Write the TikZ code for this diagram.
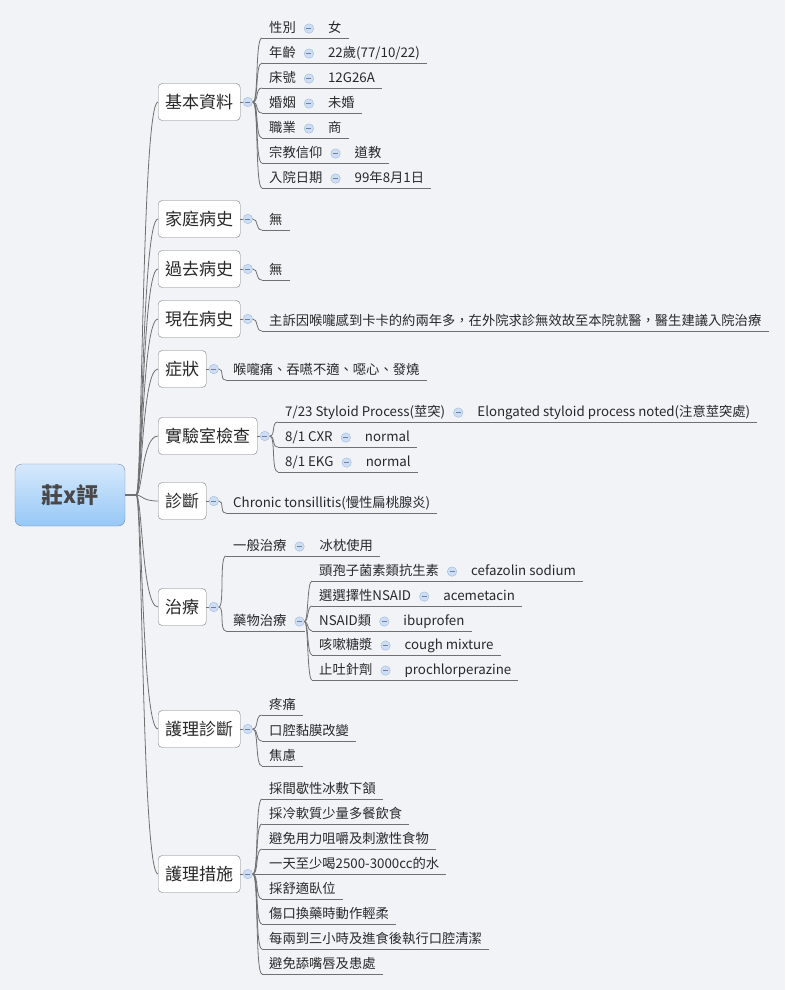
\documentclass[tikz,border=0pt]{standalone}
\usepackage{fontspec}
\setmainfont{Noto Sans CJK TC}
\usetikzlibrary{positioning}
\definecolor{mmbg}{RGB}{241,243,247}
\definecolor{mmline}{RGB}{112,112,112}
\definecolor{mmbox}{RGB}{125,125,125}
\definecolor{mmtext}{RGB}{40,40,40}
\definecolor{mmroottop}{RGB}{214,233,252}
\definecolor{mmrootbot}{RGB}{150,200,246}
\definecolor{mmrootdraw}{RGB}{120,140,170}
\definecolor{mmfold}{RGB}{205,221,244}
\definecolor{mmfolddraw}{RGB}{160,186,222}

\begin{document}
\begin{tikzpicture}[x=1pt, y=-1pt,
  root/.style={rectangle, rounded corners=7pt, draw=mmrootdraw, top color=mmroottop,
               bottom color=mmrootbot, minimum width=110pt, minimum height=62pt,
               font=\fontsize{22}{22}\selectfont\bfseries, text=mmtext!85},
  topic/.style={rectangle, rounded corners=4pt, draw=mmbox, fill=white, anchor=west,
                minimum height=37pt, inner xsep=7pt,
                font=\fontsize{17}{17}\selectfont, text=mmtext},
  leaf/.style={inner xsep=7pt, inner ysep=3pt, text height=10pt, text depth=2.5pt,
               font=\fontsize{13.3}{14}\selectfont, text=mmtext},
  fold/.style={circle, draw=mmfolddraw, fill=mmfold, minimum size=9.5pt, inner sep=0pt,
               path picture={\draw[mmfolddraw!70!black, line width=0.6pt]
                 ([xshift=-2.5pt]path picture bounding box.center) --
                 ([xshift=2.5pt]path picture bounding box.center);}},
  edge/.style={draw=mmline, line width=0.8pt},
  uline/.style={draw=mmline, line width=0.8pt}
]
% Background
\fill[mmbg] (0,0) rectangle (785,990);

% Root and main topics
\node[root] (root) at (70,495) {莊x評};

\node[topic] (t1)  at (158,102) {基本資料};
\node[topic] (t2)  at (158,219) {家庭病史};
\node[topic] (t3)  at (158,269) {過去病史};
\node[topic] (t4)  at (158,319) {現在病史};
\node[topic] (t5)  at (158,369) {症狀};
\node[topic] (t6)  at (158,436) {實驗室檢查};
\node[topic] (t7)  at (158,501) {診斷};
\node[topic] (t8)  at (158,607) {治療};
\node[topic] (t9)  at (158,729) {護理診斷};
\node[topic] (t10) at (158,874) {護理措施};

\foreach \t in {t1,t2,t3,t4,t5,t6,t7,t8,t9,t10}
  \draw[edge] (root.east) -- ++(11,0) .. controls +(6,0) and +(-16,0) .. (\t.west);

% Fold markers
\foreach \t in {t1,t2,t3,t4,t5,t6,t7,t8,t9,t10}{
  \node[fold, right=2.5pt of \t] (f\t) {};
  \draw[edge] (\t.east) -- (f\t.west);
}

% 基本資料
\node[leaf, anchor=south west] (k11) at (262,38) {性別};
\node[fold, right=1pt of k11] (c11) {};
\node[leaf, right=7pt of c11] (v11) {女};
\node[leaf, anchor=south west] (k12) at (262,63) {年齡};
\node[fold, right=1pt of k12] (c12) {};
\node[leaf, right=7pt of c12] (v12) {22歲(77/10/22)};
\node[leaf, anchor=south west] (k13) at (262,88) {床號};
\node[fold, right=1pt of k13] (c13) {};
\node[leaf, right=7pt of c13] (v13) {12G26A};
\node[leaf, anchor=south west] (k14) at (262,113) {婚姻};
\node[fold, right=1pt of k14] (c14) {};
\node[leaf, right=7pt of c14] (v14) {未婚};
\node[leaf, anchor=south west] (k15) at (262,138) {職業};
\node[fold, right=1pt of k15] (c15) {};
\node[leaf, right=7pt of c15] (v15) {商};
\node[leaf, anchor=south west] (k16) at (262,163) {宗教信仰};
\node[fold, right=1pt of k16] (c16) {};
\node[leaf, right=7pt of c16] (v16) {道教};
\node[leaf, anchor=south west] (k17) at (262,188) {入院日期};
\node[fold, right=1pt of k17] (c17) {};
\node[leaf, right=7pt of c17] (v17) {99年8月1日};
\foreach \i in {1,...,7}{
  \draw[uline] (k1\i.south west) -- (v1\i.south east);
  \draw[edge] (ft1.east) .. controls +(6,0) and +(-7,0) .. (k1\i.south west);
}

% 家庭病史 / 過去病史 / 現在病史 / 症狀
\node[leaf, anchor=south west] (k2) at (262,230) {無};
\node[leaf, anchor=south west] (k3) at (262,280) {無};
\node[leaf, anchor=south west] (k4) at (262,331)
  {主訴因喉嚨感到卡卡的約兩年多，在外院求診無效故至本院就醫，醫生建議入院治療};
\node[leaf, anchor=south west] (k5) at (226,380) {喉嚨痛、吞嚥不適、噁心、發燒};
\foreach \i in {2,3,4,5}{
  \draw[uline] (k\i.south west) -- (k\i.south east);
  \draw[edge] (ft\i.east) .. controls +(6,0) and +(-7,0) .. (k\i.south west);
}

% 實驗室檢查
\node[leaf, anchor=south west] (k61) at (278,422) {7/23 Styloid Process(莖突)};
\node[fold, right=1pt of k61] (c61) {};
\node[leaf, right=7pt of c61] (v61) {Elongated styloid process noted(注意莖突處)};
\node[leaf, anchor=south west] (k62) at (278,447) {8/1 CXR};
\node[fold, right=1pt of k62] (c62) {};
\node[leaf, right=7pt of c62] (v62) {normal};
\node[leaf, anchor=south west] (k63) at (278,472) {8/1 EKG};
\node[fold, right=1pt of k63] (c63) {};
\node[leaf, right=7pt of c63] (v63) {normal};
\foreach \i in {1,2,3}{
  \draw[uline] (k6\i.south west) -- (v6\i.south east);
  \draw[edge] (ft6.east) .. controls +(6,0) and +(-7,0) .. (k6\i.south west);
}

% 診斷
\node[leaf, anchor=south west] (k7) at (226,513) {Chronic tonsillitis(慢性扁桃腺炎)};
\draw[uline] (k7.south west) -- (k7.south east);
\draw[edge] (ft7.east) .. controls +(6,0) and +(-7,0) .. (k7.south west);

% 治療
\node[leaf, anchor=south west] (k81) at (226,556) {一般治療};
\node[fold, right=1pt of k81] (c81) {};
\node[leaf, right=8pt of c81] (v81) {冰枕使用};
\draw[uline] (k81.south west) -- (v81.south east);
\node[leaf, anchor=south west] (k82) at (226,631) {藥物治療};
\node[fold, right=1pt of k82] (c82) {};
\draw[uline] (k82.south west) -- (c82.east |- k82.south);
\draw[edge] (ft8.east) .. controls +(6,0) and +(-7,0) .. (k81.south west);
\draw[edge] (ft8.east) .. controls +(6,0) and +(-7,0) .. (k82.south west);

\node[leaf, anchor=south west] (k821) at (312,581) {頭孢子菌素類抗生素};
\node[fold, right=1pt of k821] (c821) {};
\node[leaf, right=7pt of c821] (v821) {cefazolin sodium};
\node[leaf, anchor=south west] (k822) at (312,606) {選選擇性NSAID};
\node[fold, right=1pt of k822] (c822) {};
\node[leaf, right=7pt of c822] (v822) {acemetacin};
\node[leaf, anchor=south west] (k823) at (312,631) {NSAID類};
\node[fold, right=1pt of k823] (c823) {};
\node[leaf, right=7pt of c823] (v823) {ibuprofen};
\node[leaf, anchor=south west] (k824) at (312,655) {咳嗽糖漿};
\node[fold, right=1pt of k824] (c824) {};
\node[leaf, right=7pt of c824] (v824) {cough mixture};
\node[leaf, anchor=south west] (k825) at (312,680) {止吐針劑};
\node[fold, right=1pt of k825] (c825) {};
\node[leaf, right=7pt of c825] (v825) {prochlorperazine};
\foreach \i in {1,...,5}{
  \draw[uline] (k82\i.south west) -- (v82\i.south east);
  \draw[edge] (c82.east) .. controls +(4,0) and +(-5,0) .. (k82\i.south west);
}

% 護理診斷
\node[leaf, anchor=south west] (k91) at (262,715) {疼痛};
\node[leaf, anchor=south west] (k92) at (262,741) {口腔黏膜改變};
\node[leaf, anchor=south west] (k93) at (262,766) {焦慮};
\foreach \i in {1,2,3}{
  \draw[uline] (k9\i.south west) -- (k9\i.south east);
  \draw[edge] (ft9.east) .. controls +(6,0) and +(-7,0) .. (k9\i.south west);
}

% 護理措施
\node[leaf, anchor=south west] (k101) at (262,799) {採間歇性冰敷下頷};
\node[leaf, anchor=south west] (k102) at (262,824) {採冷軟質少量多餐飲食};
\node[leaf, anchor=south west] (k103) at (262,849) {避免用力咀嚼及刺激性食物};
\node[leaf, anchor=south west] (k104) at (262,874) {一天至少喝2500-3000cc的水};
\node[leaf, anchor=south west] (k105) at (262,899) {採舒適臥位};
\node[leaf, anchor=south west] (k106) at (262,924) {傷口換藥時動作輕柔};
\node[leaf, anchor=south west] (k107) at (262,949) {每兩到三小時及進食後執行口腔清潔};
\node[leaf, anchor=south west] (k108) at (262,974) {避免舔嘴唇及患處};
\foreach \i in {1,...,8}{
  \draw[uline] (k10\i.south west) -- (k10\i.south east);
  \draw[edge] (ft10.east) .. controls +(6,0) and +(-7,0) .. (k10\i.south west);
}
\end{tikzpicture}
\end{document}
